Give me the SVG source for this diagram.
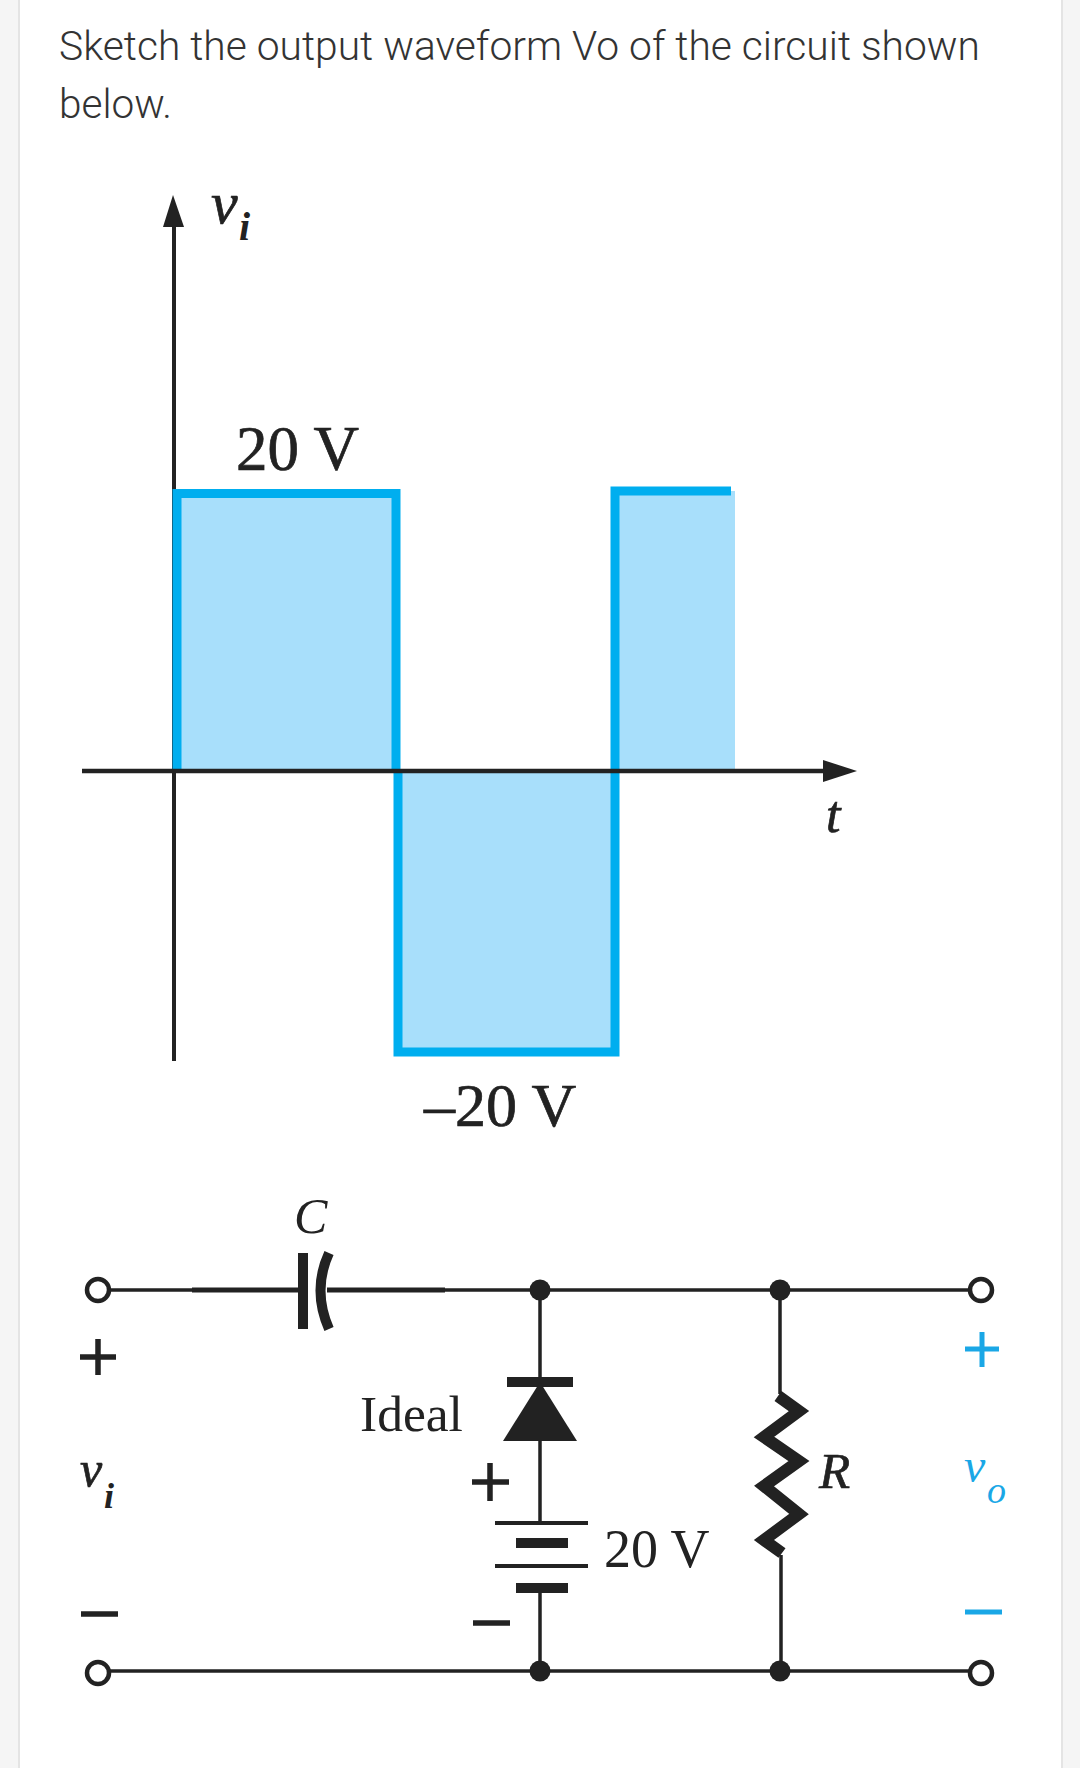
<svg xmlns="http://www.w3.org/2000/svg" width="1080" height="1768" viewBox="0 0 1080 1768">
<style>
.q{font-family:Roboto,"Liberation Sans",sans-serif;font-weight:300;font-size:40.5px;fill:#333}
.s{font-family:"Liberation Serif",serif;fill:#222}
.h{stroke:#222;stroke-width:.7}
.i{font-style:italic}
.b{fill:#1aa7e6}
.w{fill:none;stroke:#222;stroke-width:3.5}
.wave{fill:none;stroke:#00aeef;stroke-width:9;stroke-linejoin:miter}
.fill{fill:#a8dffb}
.t{fill:#fff;stroke:#222;stroke-width:4.5}
.d{fill:#222}
.sign{stroke:#222;stroke-width:5.5;fill:none}
.bsign{stroke:#1aa7e6;stroke-width:5;fill:none}
</style>
<rect width="1080" height="1768" fill="#f5f5f5"/>
<rect x="19" y="-2" width="1043" height="1772" fill="#fff" stroke="#e4e4e4" stroke-width="2"/>
<g id="question">
<text class="q" x="59" y="60" textLength="921" lengthAdjust="spacingAndGlyphs">Sketch the output waveform Vo of the circuit shown</text>
<text class="q" x="59" y="118">below.</text>
</g>
<g id="waveform">
<path d="M174 1061V215" stroke="#222" stroke-width="4" fill="none"/>
<rect class="fill" x="174" y="492" width="222" height="279"/>
<rect class="fill" x="396" y="771" width="219" height="283"/>
<rect class="fill" x="615" y="491" width="120" height="280"/>
<path class="wave" d="M177 771V493.5H396V771M398 771V1052H615V771M615 771V491H731"/>
<path d="M82 771H835" stroke="#222" stroke-width="4.5" fill="none"/>
<path class="d" d="M173 195L184 227H163Z"/>
<path class="d" d="M857 771L823 760V782Z"/>
<text class="s i h" x="211" y="223" font-size="60">v</text>
<text class="s i" x="239" y="240" font-size="40" font-weight="bold">i</text>
<text class="s h" x="236" y="470" font-size="63">20 V</text>
<text class="s h" x="424" y="1126" font-size="62">–20 V</text>
<text class="s i h" x="826" y="832" font-size="52">t</text>
</g>
<g id="connectors">
<path class="w" d="M109 1290H302M327 1290H970"/>
<path d="M192 1290H302M327 1290H445" fill="none" stroke="#222" stroke-width="5"/>
<path class="w" d="M109 1671H970"/>
<path class="w" d="M540 1290V1381M540 1441V1522M540 1587V1671"/>
<path class="w" d="M780 1290V1394M781 1555V1671"/>
</g>
<g id="terminal-in-top"><circle class="t" cx="98" cy="1290" r="11"/></g>
<g id="terminal-in-bottom"><circle class="t" cx="98" cy="1673" r="11"/></g>
<g id="terminal-out-top"><circle class="t" cx="981" cy="1290" r="11"/></g>
<g id="terminal-out-bottom"><circle class="t" cx="981" cy="1673" r="11"/></g>
<g id="node-1"><circle class="d" cx="540" cy="1290" r="10.5"/></g>
<g id="node-2"><circle class="d" cx="780" cy="1290" r="10.5"/></g>
<g id="node-3"><circle class="d" cx="540" cy="1671" r="10.5"/></g>
<g id="node-4"><circle class="d" cx="780" cy="1671" r="10.5"/></g>
<g id="capacitor">
<rect class="d" x="298" y="1253" width="10" height="76"/>
<path d="M329 1253Q312 1290 329 1329" fill="none" stroke="#222" stroke-width="10"/>
<text class="s i" x="294" y="1233" font-size="50">C</text>
</g>
<g id="diode">
<rect class="d" x="507" y="1377" width="66" height="10"/>
<path class="d" d="M540 1382L577 1441H503Z"/>
<text class="s" x="360" y="1431" font-size="51.5">Ideal</text>
</g>
<g id="battery">
<rect class="d" x="495" y="1521" width="93" height="4"/>
<rect class="d" x="516" y="1538" width="52" height="10"/>
<rect class="d" x="495" y="1564" width="93" height="4"/>
<rect class="d" x="516" y="1583" width="52" height="10"/>
<path class="sign" d="M472 1482H509M490 1463V1501M473 1623H510"/>
<text class="s" x="604" y="1567" font-size="54">20 V</text>
</g>
<g id="resistor">
<path d="M778 1396L799 1411L764 1437L799 1461L764 1486L799 1514L764 1540L782 1553" fill="none" stroke="#222" stroke-width="12" stroke-linejoin="miter"/>
<text class="s i h" x="819" y="1488" font-size="51">R</text>
</g>
<g id="input-label">
<path class="sign" d="M80 1357H116M98 1339V1375M81 1614H118"/>
<text class="s i h" x="80" y="1486" font-size="50">v</text>
<text class="s i" x="104" y="1508" font-size="36" font-weight="bold">i</text>
</g>
<g id="output-label">
<path class="bsign" d="M965 1349H999M982 1332V1367M965 1612H1002"/>
<text class="s i b" x="964" y="1482" font-size="48">v</text>
<text class="s i b" x="987" y="1503" font-size="38">o</text>
</g>
</svg>
